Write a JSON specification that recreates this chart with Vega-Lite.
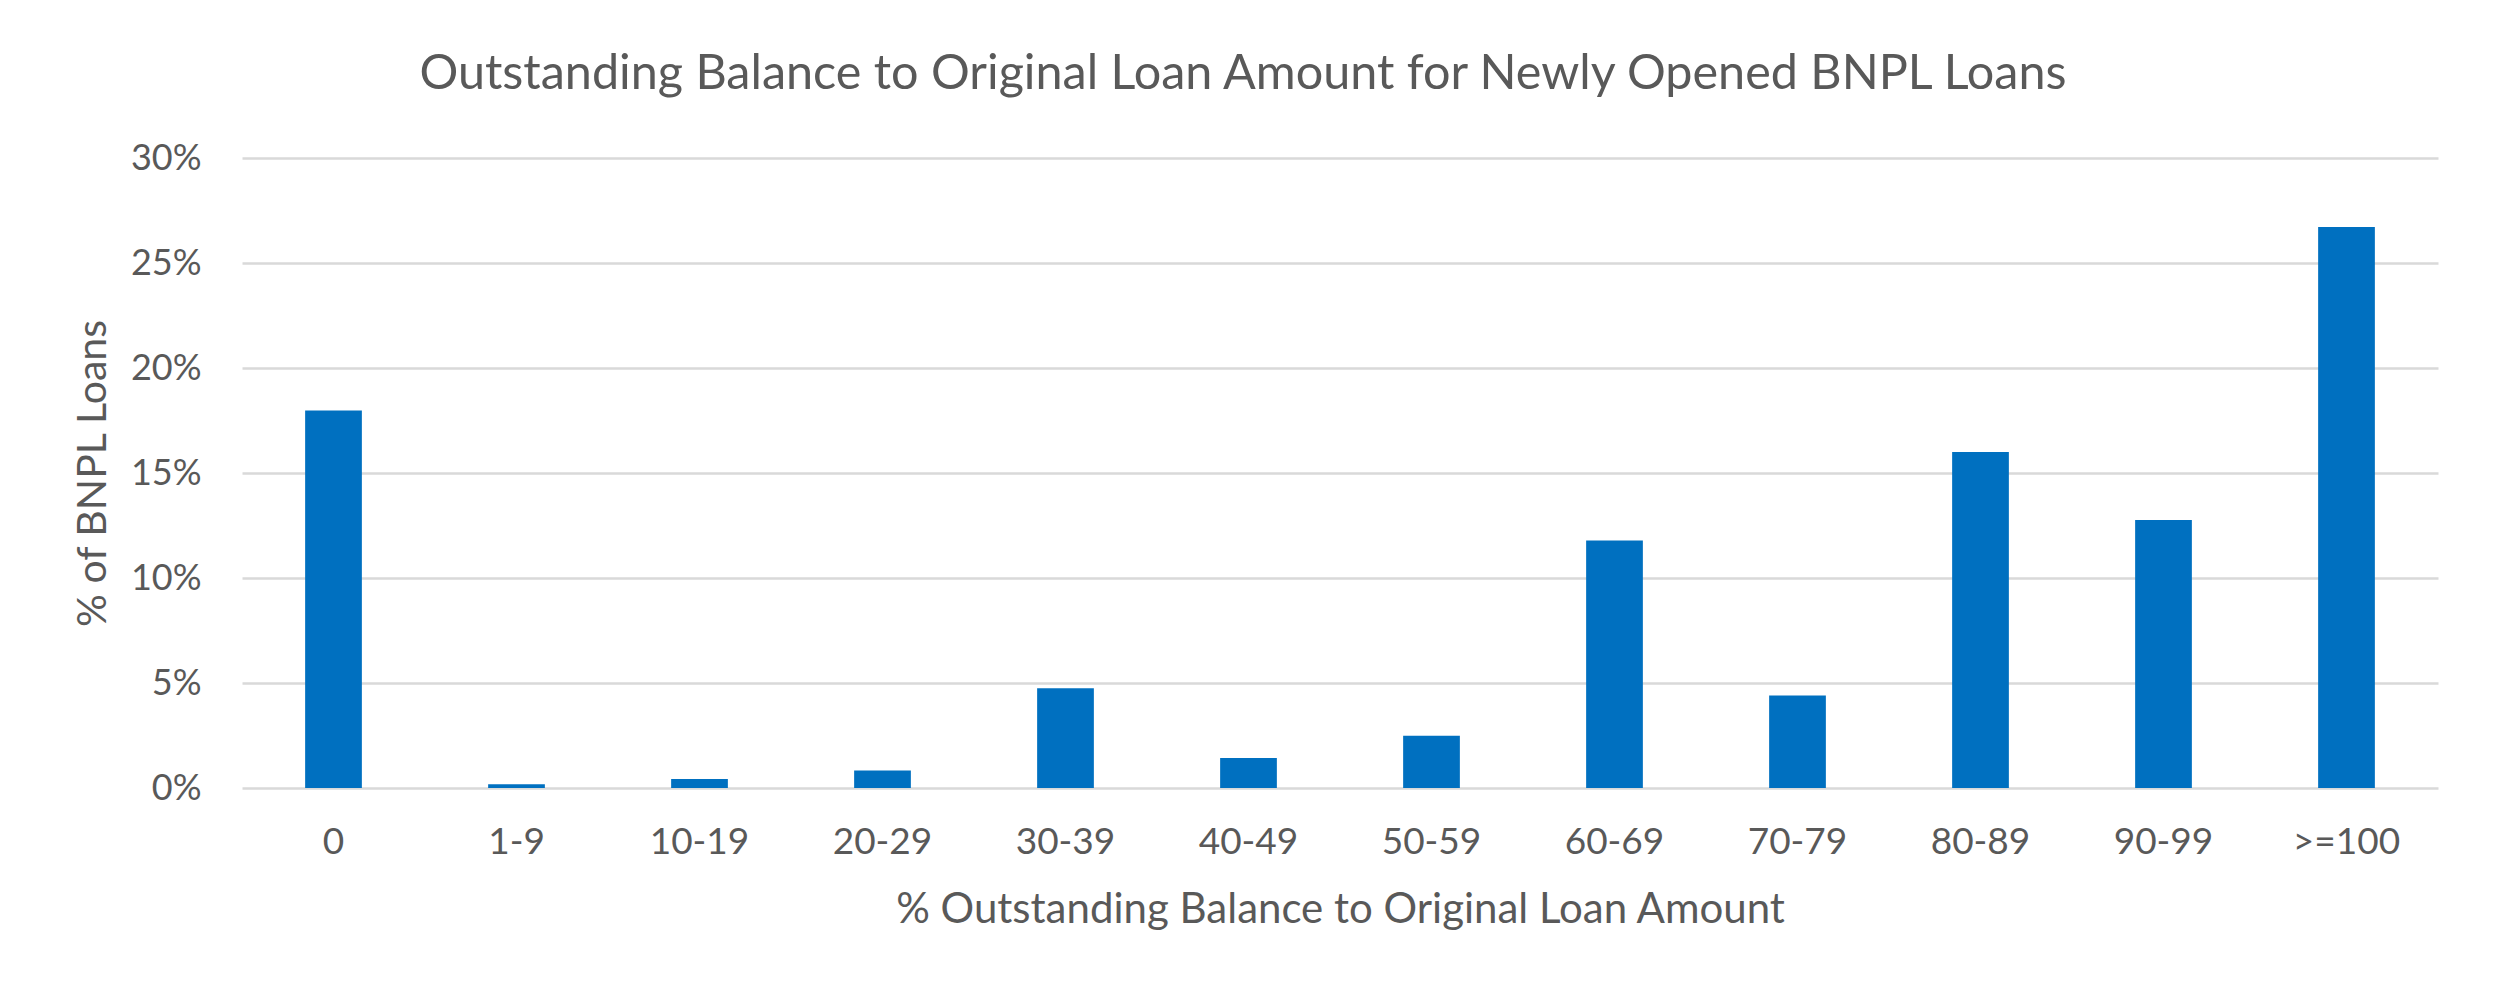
{
  "$schema": "https://vega.github.io/schema/vega-lite/v6.json",
  "autosize": {"type": "none"},
  "width": 2196,
  "height": 630,
  "padding": {"left": 242, "top": 158, "right": 55, "bottom": 211},
  "background": "#FFFFFF",
  "title": {
    "text": "Outstanding Balance to Original Loan Amount for Newly Opened BNPL Loans",
    "font": "Lato",
    "fontSize": 48.5,
    "fontWeight": "normal",
    "color": "#595959",
    "anchor": "middle",
    "frame": "group",
    "baseline": "alphabetic",
    "dx": -97,
    "offset": 3
  },
  "data": {
    "values": [
      {"bucket": "0", "share": 0.1798},
      {"bucket": "1-9", "share": 0.0018},
      {"bucket": "10-19", "share": 0.0043},
      {"bucket": "20-29", "share": 0.0083},
      {"bucket": "30-39", "share": 0.0475},
      {"bucket": "40-49", "share": 0.0143},
      {"bucket": "50-59", "share": 0.0249},
      {"bucket": "60-69", "share": 0.1179},
      {"bucket": "70-79", "share": 0.044},
      {"bucket": "80-89", "share": 0.16},
      {"bucket": "90-99", "share": 0.1276},
      {"bucket": ">=100", "share": 0.2672}
    ]
  },
  "mark": {"type": "bar", "color": "#0070C0"},
  "encoding": {
    "x": {
      "field": "bucket",
      "type": "nominal",
      "sort": null,
      "scale": {"paddingInner": 0.69, "paddingOuter": 0.345},
      "axis": {
        "title": "% Outstanding Balance to Original Loan Amount",
        "titleFont": "Lato",
        "titleFontSize": 42,
        "titleFontWeight": "normal",
        "titleColor": "#595959",
        "titleBaseline": "alphabetic",
        "titleY": 134,
        "labelFont": "Lato",
        "labelFontSize": 37,
        "labelColor": "#595959",
        "labelAngle": 0,
        "labelBaseline": "alphabetic",
        "labelPadding": 65,
        "ticks": false,
        "domain": false,
        "grid": false
      }
    },
    "y": {
      "field": "share",
      "type": "quantitative",
      "scale": {"domain": [0, 0.3], "nice": false},
      "axis": {
        "title": "% of BNPL Loans",
        "titleFont": "Lato",
        "titleFontSize": 41,
        "titleFontWeight": "normal",
        "titleColor": "#595959",
        "titleBaseline": "alphabetic",
        "titleX": -137,
        "values": [0, 0.05, 0.1, 0.15, 0.2, 0.25, 0.3],
        "format": ".0%",
        "labelFont": "Lato",
        "labelFontSize": 36,
        "labelColor": "#595959",
        "labelPadding": 41,
        "ticks": false,
        "domain": false,
        "grid": true,
        "gridColor": "#D9D9D9",
        "gridWidth": 2.5
      }
    }
  },
  "config": {
    "view": {"stroke": null}
  }
}
